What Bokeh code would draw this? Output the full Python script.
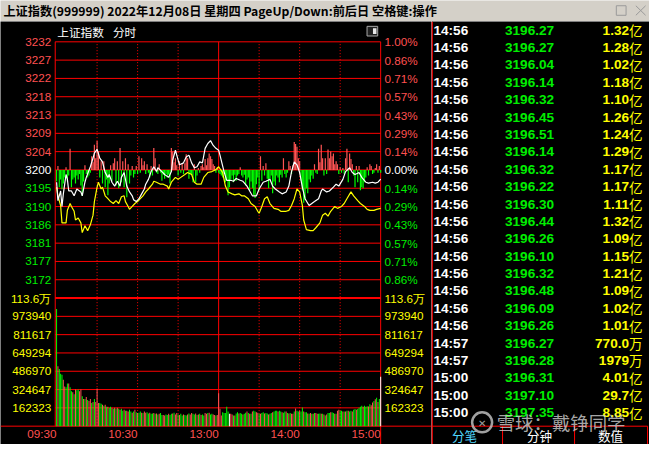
from bokeh.plotting import figure
from bokeh.layouts import column, row
from bokeh.models import Range1d
from bokeh.core.properties import value
from bokeh.embed import file_html
from bokeh.resources import INLINE

# ---------------- data ----------------
PREV_CLOSE = 3199.62
price_tick_labels = ["3232", "3227", "3222", "3218", "3213", "3209", "3204", "3200",
                     "3195", "3190", "3186", "3181", "3177", "3172"]
pct_tick_labels = ["1.00%", "0.86%", "0.71%", "0.57%", "0.43%", "0.29%", "0.14%", "0.00%",
                   "0.14%", "0.29%", "0.43%", "0.57%", "0.71%", "0.86%"]
vol_tick_labels = ["113.6万", "973940", "811617", "649294", "486970", "324647", "162323"]
VOL_STEP = 16.2323  # 万 per grid step
time_tick_minutes = [0, 60, 120, 180, 240]
time_tick_labels = ["09:30", "10:30", "13:00", "14:00", "15:00"]
dotted_minutes = [30, 60, 90, 150, 180, 210]
solid_minutes = [120]

# index (white line): minute offset from 09:30, value
white_min = [0, 1, 3, 4, 5, 7, 8, 9, 11, 13, 15, 18, 19, 21, 22, 25, 27, 28, 30, 32,
             34, 36, 38, 39, 41, 43, 45, 47, 48, 50, 52, 54, 56, 57, 59, 61, 63, 65, 66, 68,
             70, 72, 74, 75, 78, 80, 83, 85, 86, 88, 89, 91, 94, 96, 98, 100, 102, 104, 106, 108,
             110, 112, 114, 116, 118, 120, 121, 124, 126, 129, 131, 133, 136, 138, 141, 143, 145, 148, 150, 153,
             155, 158, 160, 162, 165, 167, 170, 172, 174, 176, 178, 180, 182, 184, 187, 189, 191, 194, 196, 197,
             200, 202, 205, 207, 209, 212, 214, 217, 219, 221, 224, 226, 229, 231, 234, 236, 238, 240]
white_val = [3196.55, 3191.95, 3194.37, 3190.50, 3193.65, 3198.48, 3197.27, 3194.37, 3194.37, 3193.16,
             3194.86, 3194.13, 3193.16, 3196.55, 3197.76, 3200.42, 3202.59, 3203.80, 3204.77, 3202.59,
             3201.63, 3198.97, 3197.76, 3198.48, 3196.55, 3195.58, 3196.79, 3195.58, 3197.76, 3198.97,
             3195.58, 3194.13, 3193.16, 3192.20, 3191.71, 3192.44, 3193.65, 3194.86, 3196.06, 3197.27,
             3199.21, 3200.42, 3199.21, 3200.18, 3199.21, 3198.48, 3197.76, 3199.21, 3202.11, 3204.53,
             3203.32, 3200.90, 3201.39, 3202.84, 3203.32, 3201.39, 3200.18, 3200.42, 3201.63, 3201.39,
             3205.01, 3206.22, 3206.95, 3205.74, 3205.01, 3204.53, 3203.32, 3199.21, 3197.03, 3197.03,
             3196.79, 3197.50, 3197.03, 3196.79, 3195.58, 3194.37, 3193.16, 3193.16, 3194.86, 3196.55,
             3196.79, 3197.27, 3195.58, 3194.86, 3194.13, 3193.65, 3194.13, 3195.58, 3199.21, 3201.63,
             3200.90, 3198.97, 3195.34, 3192.44, 3190.74, 3191.23, 3191.71, 3192.44, 3194.37, 3194.86,
             3194.13, 3194.37, 3195.34, 3196.06, 3195.58, 3197.27, 3199.21, 3200.18, 3198.97, 3198.48,
             3198.97, 3197.76, 3196.55, 3196.31, 3196.55, 3196.31, 3196.55, 3197.35]

# yellow line (leading / equal-weight line)
yellow_min = [0, 1, 3, 4, 7, 8, 10, 11, 13, 14, 16, 18, 19, 21, 23, 25, 27, 28, 30, 31,
              33, 34, 36, 38, 40, 42, 44, 46, 48, 50, 51, 53, 54, 56, 58, 60, 62, 64, 66, 68,
              71, 72, 74, 77, 79, 82, 83, 85, 88, 90, 92, 95, 97, 100, 102, 104, 107, 109, 112, 115,
              118, 120, 123, 125, 127, 130, 132, 135, 137, 139, 142, 144, 147, 149, 150, 152, 154, 156, 158, 161,
              164, 166, 170, 172, 174, 176, 178, 180, 182, 183, 185, 188, 190, 192, 195, 197, 199, 201, 203, 206,
              208, 211, 213, 215, 218, 220, 223, 225, 228, 230, 232, 235, 237, 240]
yellow_val = [3195.34, 3193.16, 3190.74, 3186.39, 3186.39, 3189.53, 3191.23, 3190.50, 3189.29, 3187.12,
              3187.60, 3186.39, 3183.97, 3185.67, 3184.46, 3185.91, 3188.33, 3191.71, 3195.34, 3196.55,
              3194.86, 3195.34, 3193.16, 3192.44, 3191.71, 3191.23, 3191.95, 3191.23, 3192.92, 3193.16,
              3191.71, 3190.50, 3189.78, 3190.50, 3191.23, 3191.71, 3192.44, 3193.16, 3194.13, 3194.86,
              3196.06, 3196.79, 3196.55, 3196.06, 3196.06, 3195.58, 3194.86, 3196.55, 3197.76, 3197.27,
              3197.76, 3198.48, 3198.97, 3198.48, 3196.55, 3196.06, 3196.06, 3197.76, 3198.97, 3199.21,
              3199.69, 3200.42, 3198.97, 3195.58, 3194.13, 3193.65, 3193.40, 3193.65, 3193.16, 3193.16,
              3192.44, 3191.23, 3190.50, 3189.29, 3188.81, 3190.50, 3192.44, 3192.92, 3191.23, 3190.02,
              3189.78, 3189.29, 3189.29, 3189.53, 3190.74, 3192.44, 3194.86, 3194.13, 3190.74, 3187.12,
              3184.70, 3184.46, 3184.46, 3185.18, 3186.39, 3188.33, 3188.81, 3188.09, 3189.29, 3190.50,
              3190.02, 3190.50, 3191.23, 3192.44, 3194.13, 3193.16, 3191.95, 3191.23, 3190.50, 3189.78,
              3189.53, 3189.53, 3189.78, 3190.02]

# buy/sell strength bars around previous close (index points), one per minute 0..240
strength = [-2.9, 1.0, -4.3, -2.4, -4.8, -3.4, -1.9, 0.7, -2.9, -1.4,
            5.3, -4.3, -2.4, -1.9, -3.4, -1.4, -2.4, -1.0, -3.9, -6.5,
            -2.9, 1.2, -1.0, -1.9, -1.4, -0.7, 3.4, 1.9, 6.3, 2.9,
            7.2, 4.6, -1.9, 2.2, -3.4, 2.2, -4.3, -2.4, -6.3, -3.4,
            1.2, -2.7, 1.7, 2.9, -3.9, 2.2, -4.6, 5.5, -3.1, 2.2,
            -4.3, 2.9, -6.8, 1.4, -3.4, -1.4, 1.0, -1.9, -1.0, 1.0,
            -1.0, 3.4, -0.7, 2.9, 1.2, 2.2, -1.0, 1.4, -0.7, -1.9,
            1.0, -1.4, 5.5, 2.9, -0.7, -1.0, 1.4, -0.7, -2.7, -1.2,
            -2.2, -1.0, -1.9, -1.2, -3.4, 5.5, 4.6, 1.9, 2.9, 1.2,
            -1.4, 2.2, -0.7, 1.7, -1.0, 1.7, 3.9, 2.9, -2.2, -1.0,
            -1.2, -3.1, 1.4, -3.1, -1.4, 0.5, -0.7, 1.0, 1.4, 0.7,
            2.7, 1.2, 2.9, 4.1, 3.4, 2.7, 1.4, 1.0, -0.7, 0.7,
            -0.7, -1.0, -1.4, -1.9, -1.0, -3.1, -2.2, -6.3, -4.3, -2.4,
            -1.4, -3.1, -1.2, -2.7, -1.4, -1.0, 0.7, -1.4, -1.9, -1.2,
            -3.9, -2.4, -1.9, -5.1, -2.9, -4.6, -6.3, -7.0, -3.6, -1.9,
            -5.1, 3.4, -2.7, 1.0, -1.4, 1.7, -2.2, -4.6, -2.4, -1.4,
            -5.8, -2.9, -3.9, -1.4, -1.9, -3.1, -1.2, -1.9, 2.9, -1.0,
            -1.9, -0.7, 2.2, 1.0, -1.0, 1.2, 7.0, 6.5, 5.8, 2.9,
            2.2, -2.7, -5.1, -8.2, -7.5, -4.6, -5.8, -2.4, -3.1, -1.4,
            -2.2, 1.4, -0.7, -1.0, 5.3, 1.9, 6.3, 2.9, -1.4, 2.9,
            -1.0, 5.1, 2.9, 4.6, 3.4, 4.1, 1.4, 2.2, 1.4, -1.0,
            0.7, -0.7, 0.5, -1.0, 2.9, 5.3, -3.1, 4.1, 2.7, 1.4,
            -1.4, -4.3, 1.0, -3.1, 1.0, -5.1, -4.3, -4.6, -3.1, -1.9,
            0.7, -1.4, 1.4, 1.0, -1.0, -0.7, 0.5, 1.4, -0.7, 1.0, -0.7]

# volume per minute (万), 0..240
volume = [103.9, 53.2, 50.7, 46.4, 45.5, 41.2, 35.2, 34.4, 37.8, 37.8,
          34.4, 30.9, 30.1, 28.3, 32.6, 31.8, 32.6, 30.9, 32.6, 26.6,
          24.0, 24.0, 25.8, 23.2, 22.3, 24.0, 20.6, 21.5, 24.0, 21.5,
          33.5, 20.6, 20.6, 19.8, 18.9, 18.0, 18.9, 17.2, 17.2, 16.3,
          17.2, 16.3, 15.5, 16.3, 15.5, 16.3, 15.5, 14.6, 15.5, 13.7,
          14.6, 13.7, 13.7, 12.9, 14.6, 12.9, 12.0, 12.9, 14.6, 12.3,
          11.7, 12.0, 12.9, 12.0, 11.7, 12.9, 12.0, 12.3, 11.2, 12.0,
          10.9, 11.2, 11.7, 10.9, 11.2, 10.3, 10.9, 11.7, 10.0, 9.8,
          9.4, 10.3, 10.0, 10.9, 9.8, 10.9, 11.2, 12.0, 10.3, 11.7,
          10.3, 9.8, 10.9, 9.4, 10.3, 9.8, 9.4, 10.3, 11.2, 10.3,
          11.7, 10.9, 10.3, 11.2, 10.0, 10.3, 10.9, 9.8, 10.3, 9.4,
          11.7, 10.9, 11.7, 12.0, 10.3, 10.9, 10.3, 9.8, 9.4, 10.0,
          29.2, 15.5, 9.4, 12.3, 11.7, 11.7, 17.2, 12.9, 10.9, 10.9,
          10.3, 9.4, 9.4, 11.2, 12.3, 11.2, 11.7, 10.9, 10.3, 10.9,
          12.0, 12.9, 11.7, 10.9, 10.9, 12.9, 13.7, 12.9, 12.3, 12.0,
          10.9, 10.9, 11.7, 12.3, 11.2, 11.7, 11.2, 10.3, 10.9, 11.7,
          12.3, 12.9, 13.7, 13.7, 12.9, 13.7, 12.9, 12.3, 12.0, 12.9,
          12.9, 11.7, 11.2, 11.7, 10.9, 10.9, 12.9, 15.7, 13.7, 12.9,
          13.7, 12.9, 16.6, 12.9, 12.3, 12.3, 11.2, 10.9, 11.7, 10.9,
          10.9, 11.7, 11.7, 10.9, 10.9, 11.2, 10.9, 10.9, 10.3, 9.4,
          10.3, 11.7, 11.7, 12.3, 12.3, 11.7, 10.9, 10.9, 13.7, 14.6,
          13.7, 13.7, 12.9, 12.9, 12.9, 13.7, 13.7, 12.9, 13.7, 12.9,
          14.6, 15.2, 14.6, 15.2, 16.3, 17.2, 18.0, 17.2, 18.0, 17.2,
          17.7, 17.4, 19.5, 18.6, 20.9, 22.3, 23.8, 25.2, 21.5, 24.0,
          43.8]
# r = up minute, g = down minute, w = flat
vol_dir = ("grggg" "rrggr" "ggrgr" "ggrrg" "rgrgr" "rgrgr" "rrggr" "grgrg" "grgrg" "rgrgg"
           "rgrrg" "grgrg" "rggrg" "rrggr" "ggrgr" "grggr" "rggrg" "grgrr" "grggr" "ggrgr"
           "rggrg" "rgrgg" "rrgrg" "grrgr" "rrrgg" "gggwr" "rgrgg" "rggrg" "grgrg" "rggrr"
           "grggr" "ggrgg" "rgggr" "ggrgg" "rgrgr" "rgrgg" "rggrg" "grgrg" "rgrrg" "grgrg"
           "rggrg" "grgrr" "ggrgr" "grggr" "ggrgg" "ggrgg" "grgrr" "grgrg" "w")

# tick-by-tick table (分笔)
tick_time = ["14:56"] * 18 + ["14:57", "14:57", "15:00", "15:00", "15:00"]
tick_price = ["3196.27", "3196.27", "3196.04", "3196.14", "3196.32", "3196.45", "3196.51",
              "3196.14", "3196.32", "3196.22", "3196.30", "3196.44", "3196.26", "3196.10",
              "3196.32", "3196.48", "3196.09", "3196.26", "3196.27", "3196.28", "3196.31",
              "3197.10", "3197.35"]
tick_amount = ["1.32亿", "1.28亿", "1.02亿", "1.18亿", "1.10亿", "1.26亿", "1.24亿", "1.29亿",
               "1.17亿", "1.17亿", "1.11亿", "1.32亿", "1.09亿", "1.15亿", "1.21亿", "1.09亿",
               "1.02亿", "1.01亿", "770.0万", "1979万", "4.01亿", "29.7亿", "8.85亿"]
tabs = ["分笔", "分钟", "数值"]
title_text = "上证指数(999999)  2022年12月08日 星期四 PageUp/Down:前后日 空格键:操作"

# ---------------- style ----------------
RED = "#ff0000"
RED_TXT = "#ff5050"
RED_BAR = "#ff5454"
GREEN_TXT = "#00ee00"
GREEN_BAR = "#00ff00"
YELLOW = "#ffff00"
NUM_FONT = value("Liberation Sans")
CJK_FONT = value("Noto Sans CJK SC")

minutes = list(range(len(volume)))

# ---------------- main chart ----------------
P_TOP = PREV_CLOSE * 1.01
P_BOT = PREV_CLOSE * 0.98
price_levels = [PREV_CLOSE * (1 + k / 700.0) for k in range(7, -7, -1)]
vol_levels = [VOL_STEP * k for k in range(7, 0, -1)]

main = figure(width=431, height=423, title=None,
              x_range=Range1d(-41.53, 277.64), y_range=Range1d(3131.05, 3236.69),
              x_axis_type=None, y_axis_type=None, output_backend="svg", toolbar_location=None,
              min_border=0, background_fill_color="black", border_fill_color="black",
              outline_line_color=None)
main.extra_y_ranges = {"vol": Range1d(-16.27, 358.9)}

# horizontal grid
main.segment(x0=-1, x1=240, y0=price_levels[1:], y1=price_levels[1:], line_color=RED, line_width=1)
main.segment(x0=-1, x1=240, y0=vol_levels[1:], y1=vol_levels[1:], line_color=RED, line_width=1,
             y_range_name="vol")
main.segment(x0=-1, x1=240, y0=vol_levels[0], y1=vol_levels[0], line_color=RED, line_width=2,
             y_range_name="vol")
# vertical grid
main.segment(x0=dotted_minutes, x1=dotted_minutes, y0=P_BOT, y1=P_TOP, line_color=RED,
             line_width=1, line_dash="1 2")
main.segment(x0=solid_minutes, x1=solid_minutes, y0=P_BOT, y1=P_TOP, line_color=RED, line_width=1)
# frame
main.segment(x0=-1, x1=240, y0=P_TOP, y1=P_TOP, line_color=RED, line_width=1)
main.segment(x0=-1, x1=-1, y0=P_BOT, y1=P_TOP, line_color=RED, line_width=1)
main.segment(x0=240, x1=240, y0=3131.05, y1=P_TOP, line_color=RED, line_width=1)
main.segment(x0=-41.53, x1=277.64, y0=P_BOT, y1=P_BOT, line_color=RED, line_width=1)

# strength bars
s_col = [RED_BAR if v >= 0 else GREEN_BAR for v in strength]
main.segment(x0=minutes, x1=minutes, y0=PREV_CLOSE, y1=[PREV_CLOSE + v for v in strength],
             line_color=s_col, line_width=1.2)

# volume bars
vcmap = {"r": RED_BAR, "g": GREEN_BAR, "w": "#ffffff"}
v_col = [vcmap[c] for c in vol_dir]
main.vbar(x=minutes, top=volume, bottom=0, width=0.72, fill_color=v_col, line_color=None,
          y_range_name="vol")

# lines
main.line(yellow_min, yellow_val, line_color=YELLOW, line_width=1.2)
main.line(white_min, white_val, line_color="#ffffff", line_width=1.2)

# price / percent labels
p_col = [RED_TXT] * 7 + ["#ffffff"] + [GREEN_TXT] * 6
main.text(x=-3.9, y=price_levels, text=price_tick_labels, text_align="right", text_baseline="middle",
          text_color=p_col, text_font=NUM_FONT, text_font_size=value("11.7px"))
main.text(x=242.9, y=price_levels, text=pct_tick_labels, text_align="left", text_baseline="middle",
          text_color=p_col, text_font=NUM_FONT, text_font_size=value("11.7px"))
main.text(x=-3.9, y=vol_levels, text=vol_tick_labels, text_align="right", text_baseline="middle",
          text_color=YELLOW, text_font=NUM_FONT, text_font_size=value("11.7px"), y_range_name="vol")
main.text(x=242.9, y=vol_levels, text=vol_tick_labels, text_align="left", text_baseline="middle",
          text_color=YELLOW, text_font=NUM_FONT, text_font_size=value("11.7px"), y_range_name="vol")
main.text(x=time_tick_minutes, y=-6.85, text=time_tick_labels, text_align="right",
          text_baseline="middle", text_color=RED_TXT, text_font=NUM_FONT,
          text_font_size=value("11.7px"), y_range_name="vol")

# header
main.text(x=[0.45, 41.7], y=[3234.27, 3234.27], text=["上证指数", "分时"], text_align="left",
          text_baseline="middle", text_color="#ffffff", text_font=CJK_FONT,
          text_font_size=value("11.7px"))
main.quad(left=229.9, right=237.8, top=3235.48, bottom=3233.07, fill_color="#202020",
          line_color="#a8a8a8", line_width=1)
main.quad(left=234.3, right=236.9, top=3235.0, bottom=3233.55, fill_color="#e8e8e8", line_color=None)

# ---------------- tick table ----------------
tab = figure(width=218, height=423, title=None,
             x_range=Range1d(0, 224), y_range=Range1d(23.833, -0.5),
             x_axis_type=None, y_axis_type=None, output_backend="svg", toolbar_location=None,
             min_border=0, background_fill_color="black", border_fill_color="black",
             outline_line_color=None)
rows = list(range(len(tick_time)))
amt_num = [a[:-1] for a in tick_amount]
amt_unit = [a[-1] for a in tick_amount]
tab.text(x=2, y=rows, text=tick_time, text_align="left", text_baseline="middle",
         text_color="#ffffff", text_font=NUM_FONT, text_font_style="bold",
         text_font_size=value("13.6px"))
tab.text(x=126, y=rows, text=tick_price, text_align="right", text_baseline="middle",
         text_color=GREEN_TXT, text_font=NUM_FONT, text_font_style="bold",
         text_font_size=value("13.6px"))
tab.text(x=203, y=rows, text=amt_num, text_align="right", text_baseline="middle",
         text_color=YELLOW, text_font=NUM_FONT, text_font_style="bold",
         text_font_size=value("13.6px"))
tab.text(x=203, y=rows, text=amt_unit, text_align="left", text_baseline="middle",
         text_color=YELLOW, text_font=CJK_FONT, text_font_size=value("13.6px"))
# borders
tab.segment(x0=0.6, x1=0.6, y0=-0.5, y1=23.833, line_color=RED, line_width=1.5)
tab.segment(x0=0, x1=222, y0=22.78, y1=22.78, line_color=RED, line_width=1)
tab.segment(x0=[73, 147, 222], x1=[73, 147, 222], y0=22.78, y1=23.833, line_color=RED, line_width=1)
tab.text(x=[34, 111, 184], y=23.3, text=tabs, text_align="center", text_baseline="middle",
         text_color=["#50d8ff", "#ffffff", "#ffffff"], text_font=CJK_FONT,
         text_font_size=value("12.6px"))
# watermark
tab.scatter(x=[52], y=[22.56], marker="circle", size=20, fill_color=None, line_color="#c8c8c8",
            line_width=2.5, line_alpha=0.8)
tab.text(x=[52], y=[22.56], text=["✕"], text_align="center", text_baseline="middle",
         text_color="#c8c8c8", text_alpha=0.8, text_font=CJK_FONT, text_font_size=value("10px"))
tab.text(x=[67], y=[22.56], text=["雪球：戴铮同学"], text_align="left", text_baseline="middle",
         text_color="#d4d4d4", text_alpha=0.8, text_font=CJK_FONT, text_font_size=value("18.4px"))

# ---------------- title bar ----------------
top = figure(width=649, height=21, title=None,
             x_range=Range1d(0, 665), y_range=Range1d(22, 0),
             x_axis_type=None, y_axis_type=None, output_backend="svg", toolbar_location=None,
             min_border=0, background_fill_color="#d4d0c8", border_fill_color="#d4d0c8",
             outline_line_color=None)
top.text(x=[3], y=[11.5], text=[title_text], text_align="left", text_baseline="middle",
         text_color="#000000", text_font=CJK_FONT, text_font_style="bold",
         text_font_size=value("12.2px"))
top.quad(left=631, right=641, top=5.5, bottom=15.5, fill_color=None, line_color="#9a9a9a",
         line_width=1)
top.segment(x0=[651, 651], x1=[661, 661], y0=[5.5, 15.5], y1=[15.5, 5.5], line_color="#9a9a9a",
            line_width=1)

layout = column(top, row(main, tab, spacing=0), spacing=0)
open("out.html", "w").write(file_html(layout, INLINE))
